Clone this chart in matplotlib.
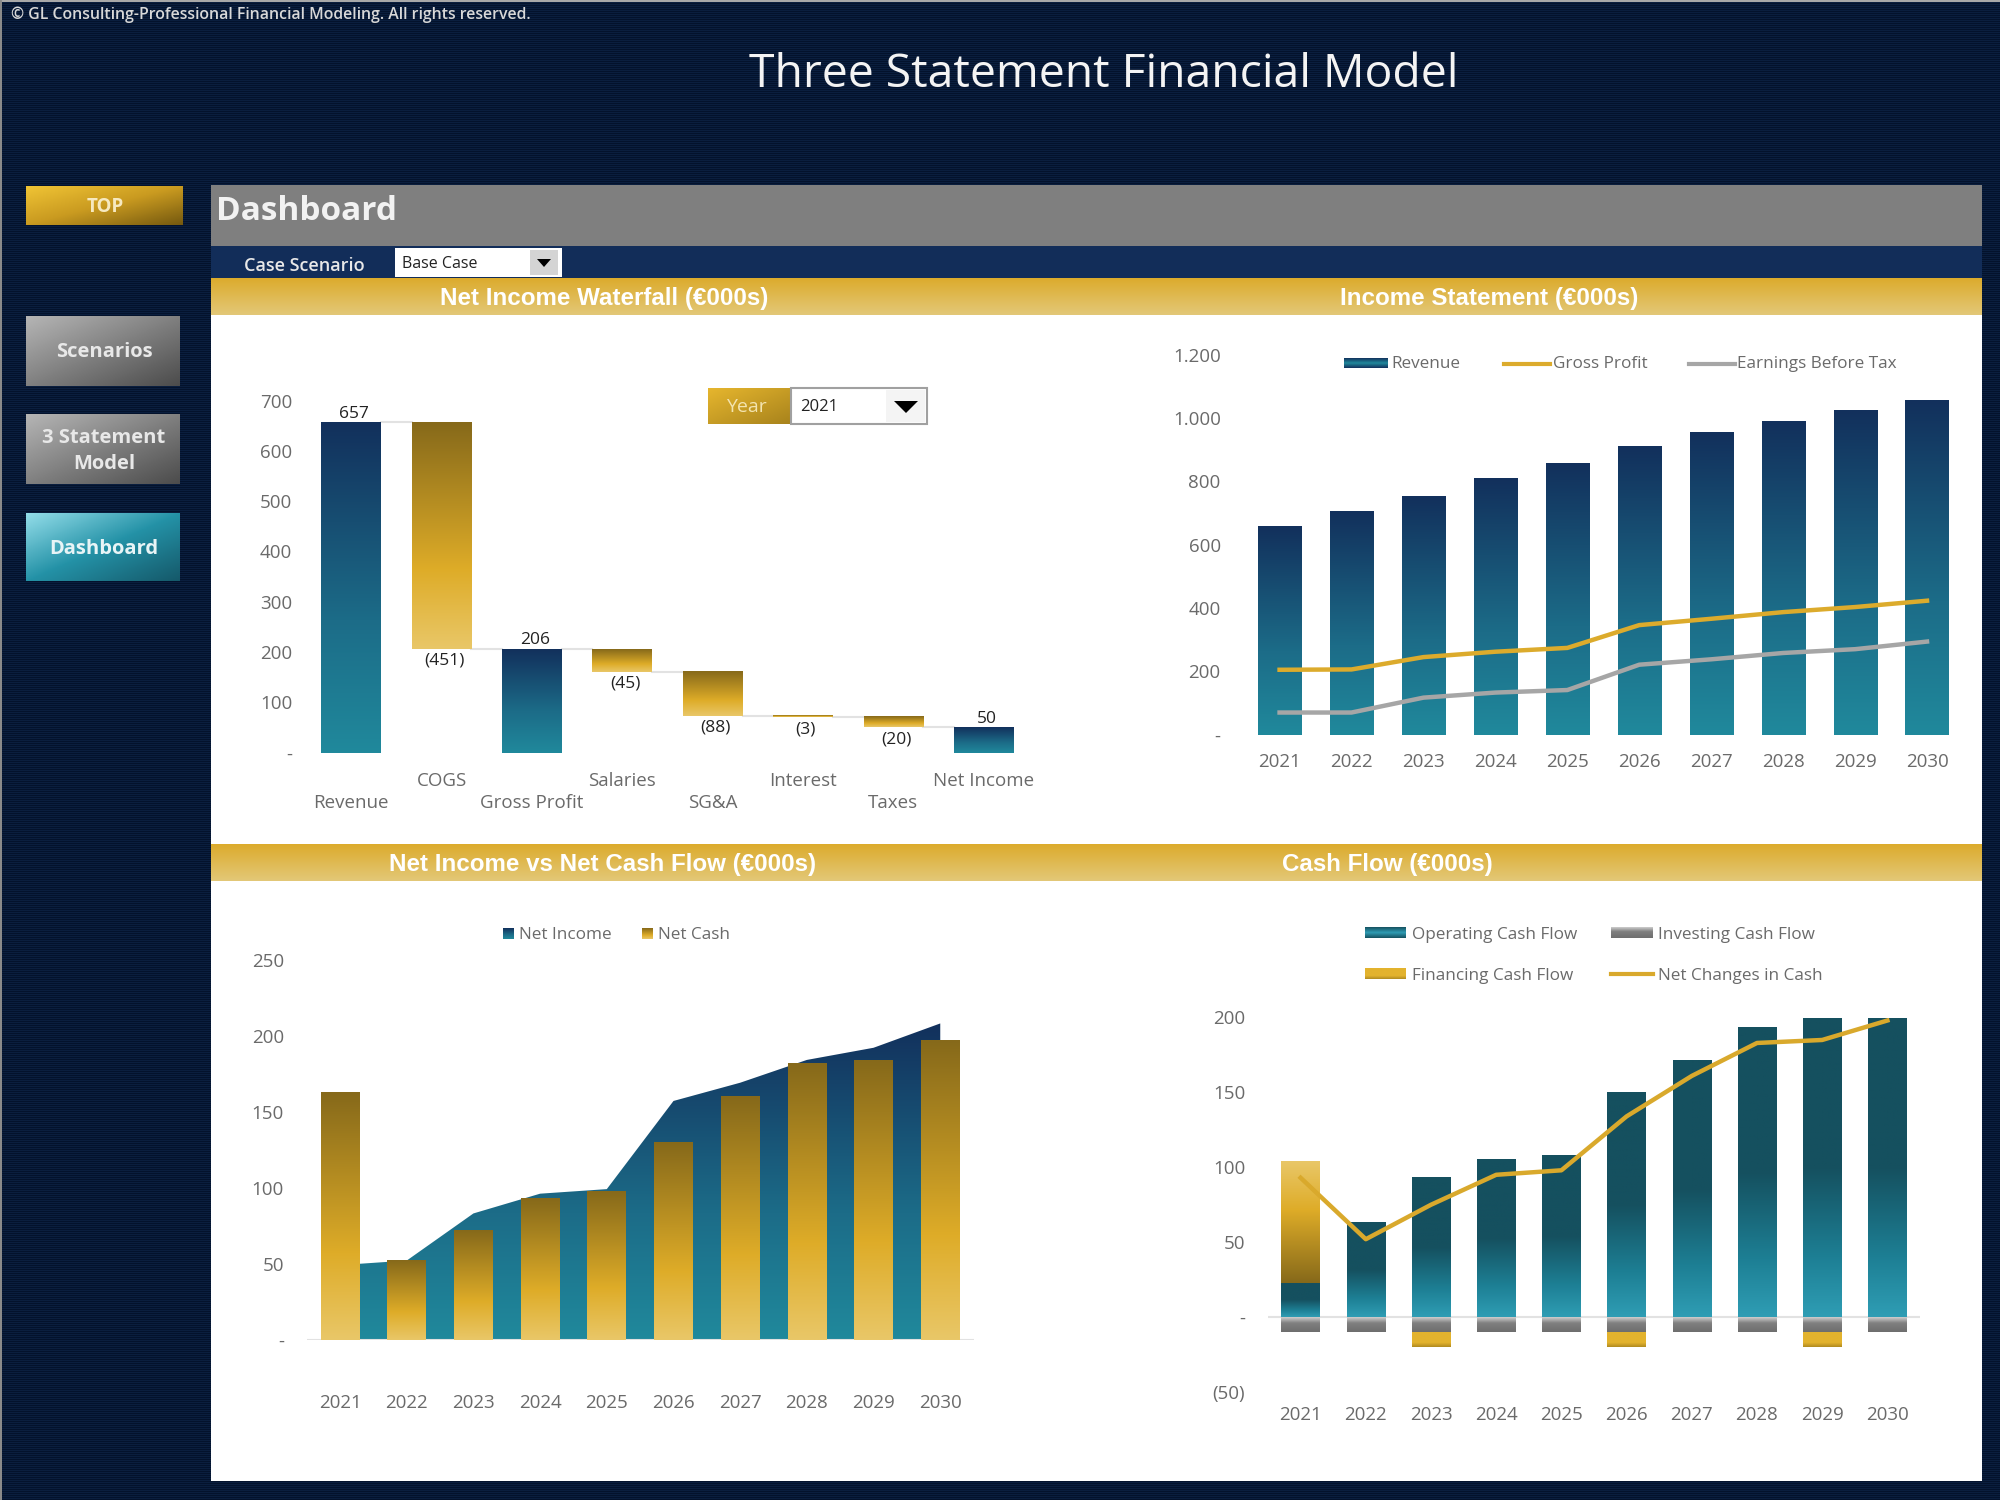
import numpy as np
import matplotlib
matplotlib.use("Agg")
import matplotlib.pyplot as plt
from matplotlib.colors import LinearSegmentedColormap as LSC
from matplotlib.patches import Rectangle, Polygon
from matplotlib.ticker import FuncFormatter

plt.rcParams['font.family'] = ['Open Sans', 'DejaVu Sans']

years = ["2021", "2022", "2023", "2024", "2025", "2026", "2027", "2028", "2029", "2030"]

# waterfall
wf_labels = ["Revenue", "COGS", "Gross Profit", "Salaries", "SG&A", "Interest", "Taxes", "Net Income"]
wf_values = [657, -451, 206, -45, -88, -3, -20, 50]
wf_totals = [True, False, True, False, False, False, False, True]

# income statement
revenue = [657, 705, 753, 809, 858, 910, 954, 990, 1023, 1055]
gross_profit = [205, 206, 245, 262, 274, 346, 366, 387, 403, 423]
ebt = [70, 70, 117, 133, 141, 221, 238, 258, 270, 294]

# net income vs net cash
net_income = [49, 52, 83, 96, 99, 157, 169, 184, 192, 208]
net_cash = [163, 52, 72, 93, 98, 130, 160, 182, 184, 197]

# cash flow
operating_cf = [23, 63, 93, 105, 108, 150, 171, 193, 200, 200]
investing_cf = [-10, -10, -10, -10, -10, -10, -10, -10, -10, -10]
financing_cf = [81, 0, -10, 0, 0, -10, 0, 0, -10, 0]
net_change = [93, 52, 75, 95, 98, 134, 161, 183, 185, 198]

NAVY_TEAL = LSC.from_list("nt", [(0, "#12305c"), (0.6, "#1c6c88"), (1, "#20899c")])
GOLD = LSC.from_list("gold", [(0, "#86691a"), (0.65, "#deac28"), (1, "#e9c768")])
GOLD_UP = LSC.from_list("goldup", [(0, "#e9c768"), (0.4, "#deac28"), (1, "#86691a")])
GOLD_NEG = LSC.from_list("goldneg", [(0, "#e3b32e"), (0.7, "#e3b32e"), (1, "#b08a20")])
TEAL_DARK = LSC.from_list("td", [(0, "#15505f"), (0.5, "#15505f"), (0.8, "#1d7f94"), (1, "#2f9db4")])
GREY = LSC.from_list("grey", [(0, "#cfcfcf"), (0.4, "#808080"), (1, "#6e6e6e")])
TICK = "#6a6a6a"
GRAD = np.linspace(0, 1, 256)[:, None]

fig = plt.figure(figsize=(20, 15), dpi=100)

# dotted dark background
yy, xx = np.mgrid[0:1500, 0:2000]
dots = ((xx + yy) % 4 < 2) ^ ((xx - yy) % 4 < 2)
bg = np.where(dots[..., None], np.array([3, 18, 44]), np.array([10, 30, 62])).astype(np.uint8)
fig.figimage(bg, zorder=-1)

ov = fig.add_axes([0, 0, 1, 1], zorder=0)
ov.patch.set_alpha(0)
ov.axis("off")


def grad_rect(x0, y0, x1, y1, cmap, diag=False, z=1):
    if diag:
        g = np.add.outer(np.linspace(0, 1, 64), np.linspace(0, 1, 64)) / 2
    else:
        g = GRAD
    ov.imshow(g, extent=[x0, x1, y1, y0], aspect="auto", cmap=cmap, vmin=0, vmax=1, zorder=z)


def otext(x, y, s, size=13, color="white", weight="normal", ha="center", family=None, **kw):
    ov.text(x, y + 2, s, fontsize=size, color=color, fontweight=weight, ha=ha, va="center",
            family=family or ['Open Sans', 'DejaVu Sans'], zorder=5, **kw)


def box(x0, y0, x1, y1, color, z=1, **kw):
    ov.add_patch(Rectangle((x0, y0), x1 - x0, y1 - y0, facecolor=color, edgecolor="none", zorder=z, **kw))


# panels
box(0, 0, 2000, 2, "#a8a8a8")
box(0, 0, 2, 1500, "#8a8a8a")
box(211, 315, 1982, 1481, "white")
box(211, 185, 1982, 246, "#7f7f7f")
box(211, 246, 1982, 278, "#122d59")
HEAD = LSC.from_list("head", ["#dcab2c", "#e3c878"])
grad_rect(211, 278, 1982, 315, HEAD)
grad_rect(211, 844, 1982, 881, HEAD)
ARIAL = ['Liberation Sans', 'DejaVu Sans']
otext(604, 297, "Net Income Waterfall (€000s)", 17.4, weight="bold", family=ARIAL)
otext(1489, 297, "Income Statement (€000s)", 17.4, weight="bold", family=ARIAL)
otext(603, 863, "Net Income vs Net Cash Flow (€000s)", 17.4, weight="bold", family=ARIAL)
otext(1387, 863, "Cash Flow (€000s)", 17.4, weight="bold", family=ARIAL)

otext(11, 13, "© GL Consulting-Professional Financial Modeling. All rights reserved.", 11.4,
      color="#d8d8d8", weight="semibold", ha="left")
otext(1104, 73, "Three Statement Financial Model", 33.3, color="#f4f4f4")
otext(216, 209, "Dashboard", 24, weight="bold", color="#f2f2f2", ha="left")
otext(304, 264, "Case Scenario", 13, weight="semibold", color="#e8e8e8")

# case scenario dropdown
box(395, 248, 562, 277, "white", z=2)
otext(402, 262, "Base Case", 11.5, color="#222222", ha="left")
box(530, 250, 558, 275, "#d4d4d4", z=3)
ov.add_patch(Polygon([(537, 259), (551, 259), (544, 267)], facecolor="black", zorder=4))

# nav buttons
grad_rect(26, 186, 183, 225, LSC.from_list("b1", ["#f0c435", "#c99a20", "#75590f"]), diag=True)
otext(105, 205, "TOP", 13.5, weight="bold", color="#f6e9c0")
BTN_GREY = LSC.from_list("b2", ["#b5b5b5", "#808080", "#4c4c4c"])
grad_rect(26, 316, 180, 386, BTN_GREY, diag=True)
otext(104, 350, "Scenarios", 14.5, weight="bold", color="#e8e8e8")
grad_rect(26, 414, 180, 484, BTN_GREY, diag=True)
otext(104, 449, "3 Statement\nModel", 14.5, weight="bold", color="#e8e8e8", linespacing=1.35)
grad_rect(26, 513, 180, 581, LSC.from_list("b3", ["#93dde9", "#2492a7", "#15596a"]), diag=True)
otext(104, 547, "Dashboard", 14.5, weight="bold", color="#e8f4f6")

# year selector
grad_rect(708, 388, 791, 424, LSC.from_list("b4", ["#e6b62e", "#a8831c"]), diag=True, z=2)
otext(746, 405, "Year", 14, color="#f3e4b0")
box(791, 388, 927, 424, "white", z=2)
ov.add_patch(Rectangle((791, 388), 136, 36, fill=False, edgecolor="#a0a0a0", lw=1.5, zorder=3))
otext(800, 405, "2021", 12, color="#222222", ha="left")
box(886, 390, 925, 422, "#f4f4f4", z=3)
ov.add_patch(Polygon([(894, 401), (918, 401), (906, 413)], facecolor="black", zorder=4))


def add_chart(x0, x1, ytop, ybot):
    ax = fig.add_axes([x0 / 2000, 1 - ybot / 1500, (x1 - x0) / 2000, (ybot - ytop) / 1500], zorder=2)
    ax.patch.set_alpha(0)
    for s in ax.spines.values():
        s.set_visible(False)
    return ax


def y_fmt(v, pos):
    if v == 0:
        return "-"
    if v < 0:
        return "(%d)" % abs(v)
    return ("{:,.0f}".format(v)).replace(",", ".")


def style(ax, xpad, ypad=16.5, size=13.5):
    ax.yaxis.set_major_formatter(FuncFormatter(y_fmt))
    ax.tick_params(axis="x", length=0, pad=xpad, labelsize=size, labelcolor=TICK)
    ax.tick_params(axis="y", length=0, pad=ypad, labelsize=size, labelcolor=TICK)


def grad_bars(ax, x, bottoms, heights, width, cmap, z=2):
    bars = ax.bar(x, heights, width, bottom=bottoms, color="none", zorder=z)
    for b in bars:
        if b.get_height() == 0:
            continue
        y0, y1 = b.get_y(), b.get_y() + b.get_height()
        ax.imshow(GRAD, extent=[b.get_x(), b.get_x() + b.get_width(), min(y0, y1), max(y0, y1)],
                  aspect="auto", cmap=cmap, zorder=z)
    return bars


# waterfall chart
ax1 = add_chart(306, 1029, 400.5, 752.5)
level = 0
for i in range(len(wf_values)):
    v = wf_values[i]
    if wf_totals[i]:
        grad_bars(ax1, [i], [0], [v], 0.66, NAVY_TEAL)
        ax1.text(i + 0.03, v + 1, str(v), ha="center", va="bottom", fontsize=12.5, color="#222222")
        level = v
    else:
        grad_bars(ax1, [i], [level + v], [-v], 0.66, GOLD)
        level = level + v
        ax1.text(i + 0.03, level - 8, "(%d)" % -v, ha="center", va="top", fontsize=12.5, color="#222222")
    if i < len(wf_values) - 1:
        ax1.plot([i + 0.33, i + 0.67], [level, level], color="#e2e2e2", lw=1.5, zorder=1)
ax1.set_xticks(range(len(wf_labels)))
ax1.set_xticklabels([("\n" + l) if i % 2 == 0 else l for i, l in enumerate(wf_labels)], linespacing=1.3)
ax1.set_yticks(range(0, 701, 100))
ax1.set_xlim(-0.5, 7.5)
ax1.set_ylim(0, 700)
style(ax1, 14, ypad=10)

# income statement chart
ax2 = add_chart(1243.6, 1963, 354.6, 734.7)
xs = np.arange(len(years))
grad_bars(ax2, xs, np.zeros(10), revenue, 0.6, NAVY_TEAL)
ax2.plot(xs, gross_profit, color="#dcab2c", lw=3.2, zorder=3)
ax2.plot(xs, ebt, color="#a6a6a6", lw=3.2, zorder=3)
ax2.set_xticks(xs)
ax2.set_xticklabels(years)
ax2.set_yticks(range(0, 1201, 200))
ax2.set_xlim(-0.5, 9.5)
ax2.set_ylim(0, 1200)
style(ax2, 13)

# net income vs net cash chart
ax3 = add_chart(306.7, 973.6, 959.6, 1339.6)
area = ax3.fill_between(xs, 0, net_income, color="none", zorder=1)
im = ax3.imshow(GRAD, extent=[0, 9, 0, max(net_income)], aspect="auto", cmap=NAVY_TEAL, zorder=1)
im.set_clip_path(area.get_paths()[0], transform=ax3.transData)
grad_bars(ax3, xs, np.zeros(10), net_cash, 0.58, GOLD)
ax3.axhline(0, color="#e2e2e2", lw=1.5, zorder=1)
ax3.set_xticks(xs)
ax3.set_xticklabels(years)
ax3.set_yticks(range(0, 251, 50))
ax3.set_xlim(-0.5, 9.5)
ax3.set_ylim(0, 250)
style(ax3, 39)

# cash flow chart
ax4 = add_chart(1268, 1920, 1017.5, 1392)
grad_bars(ax4, xs, np.zeros(10), operating_cf, 0.59, TEAL_DARK)
grad_bars(ax4, xs, np.zeros(10), investing_cf, 0.59, GREY)
for i in range(10):
    if financing_cf[i] > 0:
        grad_bars(ax4, [i], [operating_cf[i]], [financing_cf[i]], 0.59, GOLD_UP)
    elif financing_cf[i] < 0:
        grad_bars(ax4, [i], [investing_cf[i]], [financing_cf[i]], 0.59, GOLD_NEG)
ax4.plot(xs, net_change, color="#d9a92c", lw=3.2, zorder=4)
ax4.axhline(0, color="#e2e2e2", lw=1.5, zorder=1)
ax4.set_xticks(xs)
ax4.set_xticklabels(years)
ax4.set_yticks(range(-50, 201, 50))
ax4.set_xlim(-0.5, 9.5)
ax4.set_ylim(-50, 200)
style(ax4, 10)

# legends
LEG = "#6a6a6a"
grad_rect(1344, 358, 1388, 368, LSC.from_list("l1", ["#12305c", "#20899c", "#12305c"]), z=3)
otext(1391, 362, "Revenue", 12.3, color=LEG, ha="left")
ov.plot([1504, 1550], [364, 364], color="#dcab2c", lw=3, zorder=3)
otext(1553, 362, "Gross Profit", 12.3, color=LEG, ha="left")
ov.plot([1689, 1735], [364, 364], color="#a6a6a6", lw=3, zorder=3)
otext(1737, 362, "Earnings Before Tax", 12.3, color=LEG, ha="left")

grad_rect(503, 928, 514, 939, NAVY_TEAL, z=3)
otext(519, 933, "Net Income", 12.3, color=LEG, ha="left")
grad_rect(642, 928, 653, 939, GOLD, z=3)
otext(658, 933, "Net Cash", 12.3, color=LEG, ha="left")

grad_rect(1365, 927, 1406, 938, LSC.from_list("l2", ["#15505f", "#2f9db4", "#15505f"]), z=3)
otext(1412, 933, "Operating Cash Flow", 12.3, color=LEG, ha="left")
grad_rect(1611, 927, 1653, 938, GREY, z=3)
otext(1658, 933, "Investing Cash Flow", 12.3, color=LEG, ha="left")
grad_rect(1365, 968, 1406, 979, GOLD_NEG, z=3)
otext(1412, 974, "Financing Cash Flow", 12.3, color=LEG, ha="left")
ov.plot([1611, 1653], [974, 974], color="#d9a92c", lw=3, zorder=3)
otext(1658, 974, "Net Changes in Cash", 12.3, color=LEG, ha="left")

ov.set_xlim(0, 2000)
ov.set_ylim(1500, 0)

fig.savefig("out.png", dpi=100)
